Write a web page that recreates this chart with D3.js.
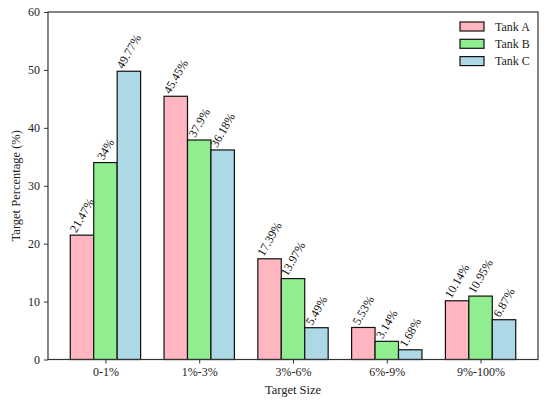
<!DOCTYPE html>
<html>
<head>
<meta charset="utf-8">
<script src="https://cdn.jsdelivr.net/npm/d3@7"></script>
<style>
  body { margin: 0; background: #fff; }
  svg { font-family: "Liberation Serif", "Times New Roman", serif; }
</style>
</head>
<body>
<div id="chart"></div>
<script>
// Data
const categories = ["0-1%", "1%-3%", "3%-6%", "6%-9%", "9%-100%"];
const seriesNames = ["Tank A", "Tank B", "Tank C"];
const tankA = [21.47, 45.45, 17.39, 5.53, 10.14];
const tankB = [34, 37.9, 13.97, 3.14, 10.95];
const tankC = [49.77, 36.18, 5.49, 1.68, 6.87];
const yTicks = [0, 10, 20, 30, 40, 50, 60];
const colors = ["#FFB6C1", "#90EE90", "#ADD8E6"];

const series = [tankA, tankB, tankC];

// Chart dimensions
const W = 550, H = 401;
const margin = {top: 12, right: 12, bottom: 41.5, left: 48};
const width = W - margin.left - margin.right;
const height = H - margin.top - margin.bottom;

const svg = d3.select("#chart")
    .append("svg")
    .attr("width", W)
    .attr("height", H)
    .append("g")
    .attr("transform", "translate(" + margin.left + "," + margin.top + ")");

// Scales (bars at i-0.25, i, i+0.25, width 0.25, 5% margins)
const barW = 0.25;
const x = d3.scaleLinear()
    .domain([-0.6125, categories.length - 1 + 0.6125])
    .range([0, width]);

const y = d3.scaleLinear()
    .domain([0, 60])
    .range([height, 0]);

// Bars
const flat = [];
series.forEach((vals, s) => {
    vals.forEach((v, i) => {
        flat.push({s: s, i: i, v: v, pos: i + (s - 1) * barW});
    });
});

svg.selectAll(".bar")
    .data(flat)
    .enter().append("rect")
    .attr("class", "bar")
    .attr("x", d => x(d.pos - barW / 2))
    .attr("width", d => x(d.pos + barW / 2) - x(d.pos - barW / 2))
    .attr("y", d => y(d.v))
    .attr("height", d => y(0) - y(d.v))
    .style("fill", d => colors[d.s])
    .style("stroke", "#111")
    .style("stroke-width", 1.2);

// Value labels, rotated 60deg, bbox centred over bar, bottom at bar top
const angle = 60 * Math.PI / 180;
const labels = svg.selectAll(".label")
    .data(flat)
    .enter().append("text")
    .attr("class", "label")
    .attr("text-anchor", "middle")
    .attr("dominant-baseline", "central")
    .style("font-size", "12px")
    .style("fill", "#111")
    .text(d => d.v + "%");

labels.each(function(d) {
    const L = this.getComputedTextLength();
    const h = 11;
    const bh = L * Math.sin(angle) + h * Math.cos(angle);
    const cx = x(d.pos);
    const cy = y(d.v) - bh / 2 - 1;
    d3.select(this)
        .attr("transform", "translate(" + cx + "," + cy + ") rotate(-60)");
});

// Axes
const xAxis = d3.axisBottom(x)
    .tickValues(d3.range(categories.length))
    .tickFormat(i => categories[i])
    .tickSize(4)
    .tickPadding(4);

const yAxis = d3.axisLeft(y)
    .tickValues(yTicks)
    .tickSize(4)
    .tickPadding(4);

const gx = svg.append("g")
    .attr("class", "x axis")
    .attr("transform", "translate(0," + height + ")")
    .call(xAxis);
gx.select(".domain").remove();

const gy = svg.append("g")
    .attr("class", "y axis")
    .call(yAxis);
gy.select(".domain").remove();

svg.selectAll(".axis text")
    .style("font-family", "'Liberation Serif', 'Times New Roman', serif")
    .style("font-size", "12px")
    .style("fill", "#222");
svg.selectAll(".axis line")
    .style("stroke", "#333")
    .style("stroke-width", 1);

// Frame
svg.append("rect")
    .attr("x", 0)
    .attr("y", 0)
    .attr("width", width)
    .attr("height", height)
    .style("fill", "none")
    .style("stroke", "#333")
    .style("stroke-width", 1.2);

// Axis titles
svg.append("text")
    .attr("x", width / 2)
    .attr("y", height + 34)
    .attr("text-anchor", "middle")
    .style("font-size", "12.5px")
    .style("fill", "#222")
    .text("Target Size");

svg.append("text")
    .attr("transform", "translate(" + (-32) + "," + (height / 2) + ") rotate(-90)")
    .attr("text-anchor", "middle")
    .attr("dominant-baseline", "central")
    .style("font-size", "12.5px")
    .style("fill", "#222")
    .text("Target Percentage (%)");

// Legend
const legend = svg.append("g")
    .attr("transform", "translate(" + (width - 78) + ",10)");

seriesNames.forEach((name, s) => {
    const row = legend.append("g")
        .attr("transform", "translate(0," + (s * 17.3) + ")");
    row.append("rect")
        .attr("x", 0)
        .attr("y", 0)
        .attr("width", 24)
        .attr("height", 9)
        .style("fill", colors[s])
        .style("stroke", "#111")
        .style("stroke-width", 1.2);
    row.append("text")
        .attr("x", 35)
        .attr("y", 4.5)
        .attr("dominant-baseline", "central")
        .style("font-size", "12px")
        .style("fill", "#222")
        .text(name);
});
</script>
</body>
</html>
